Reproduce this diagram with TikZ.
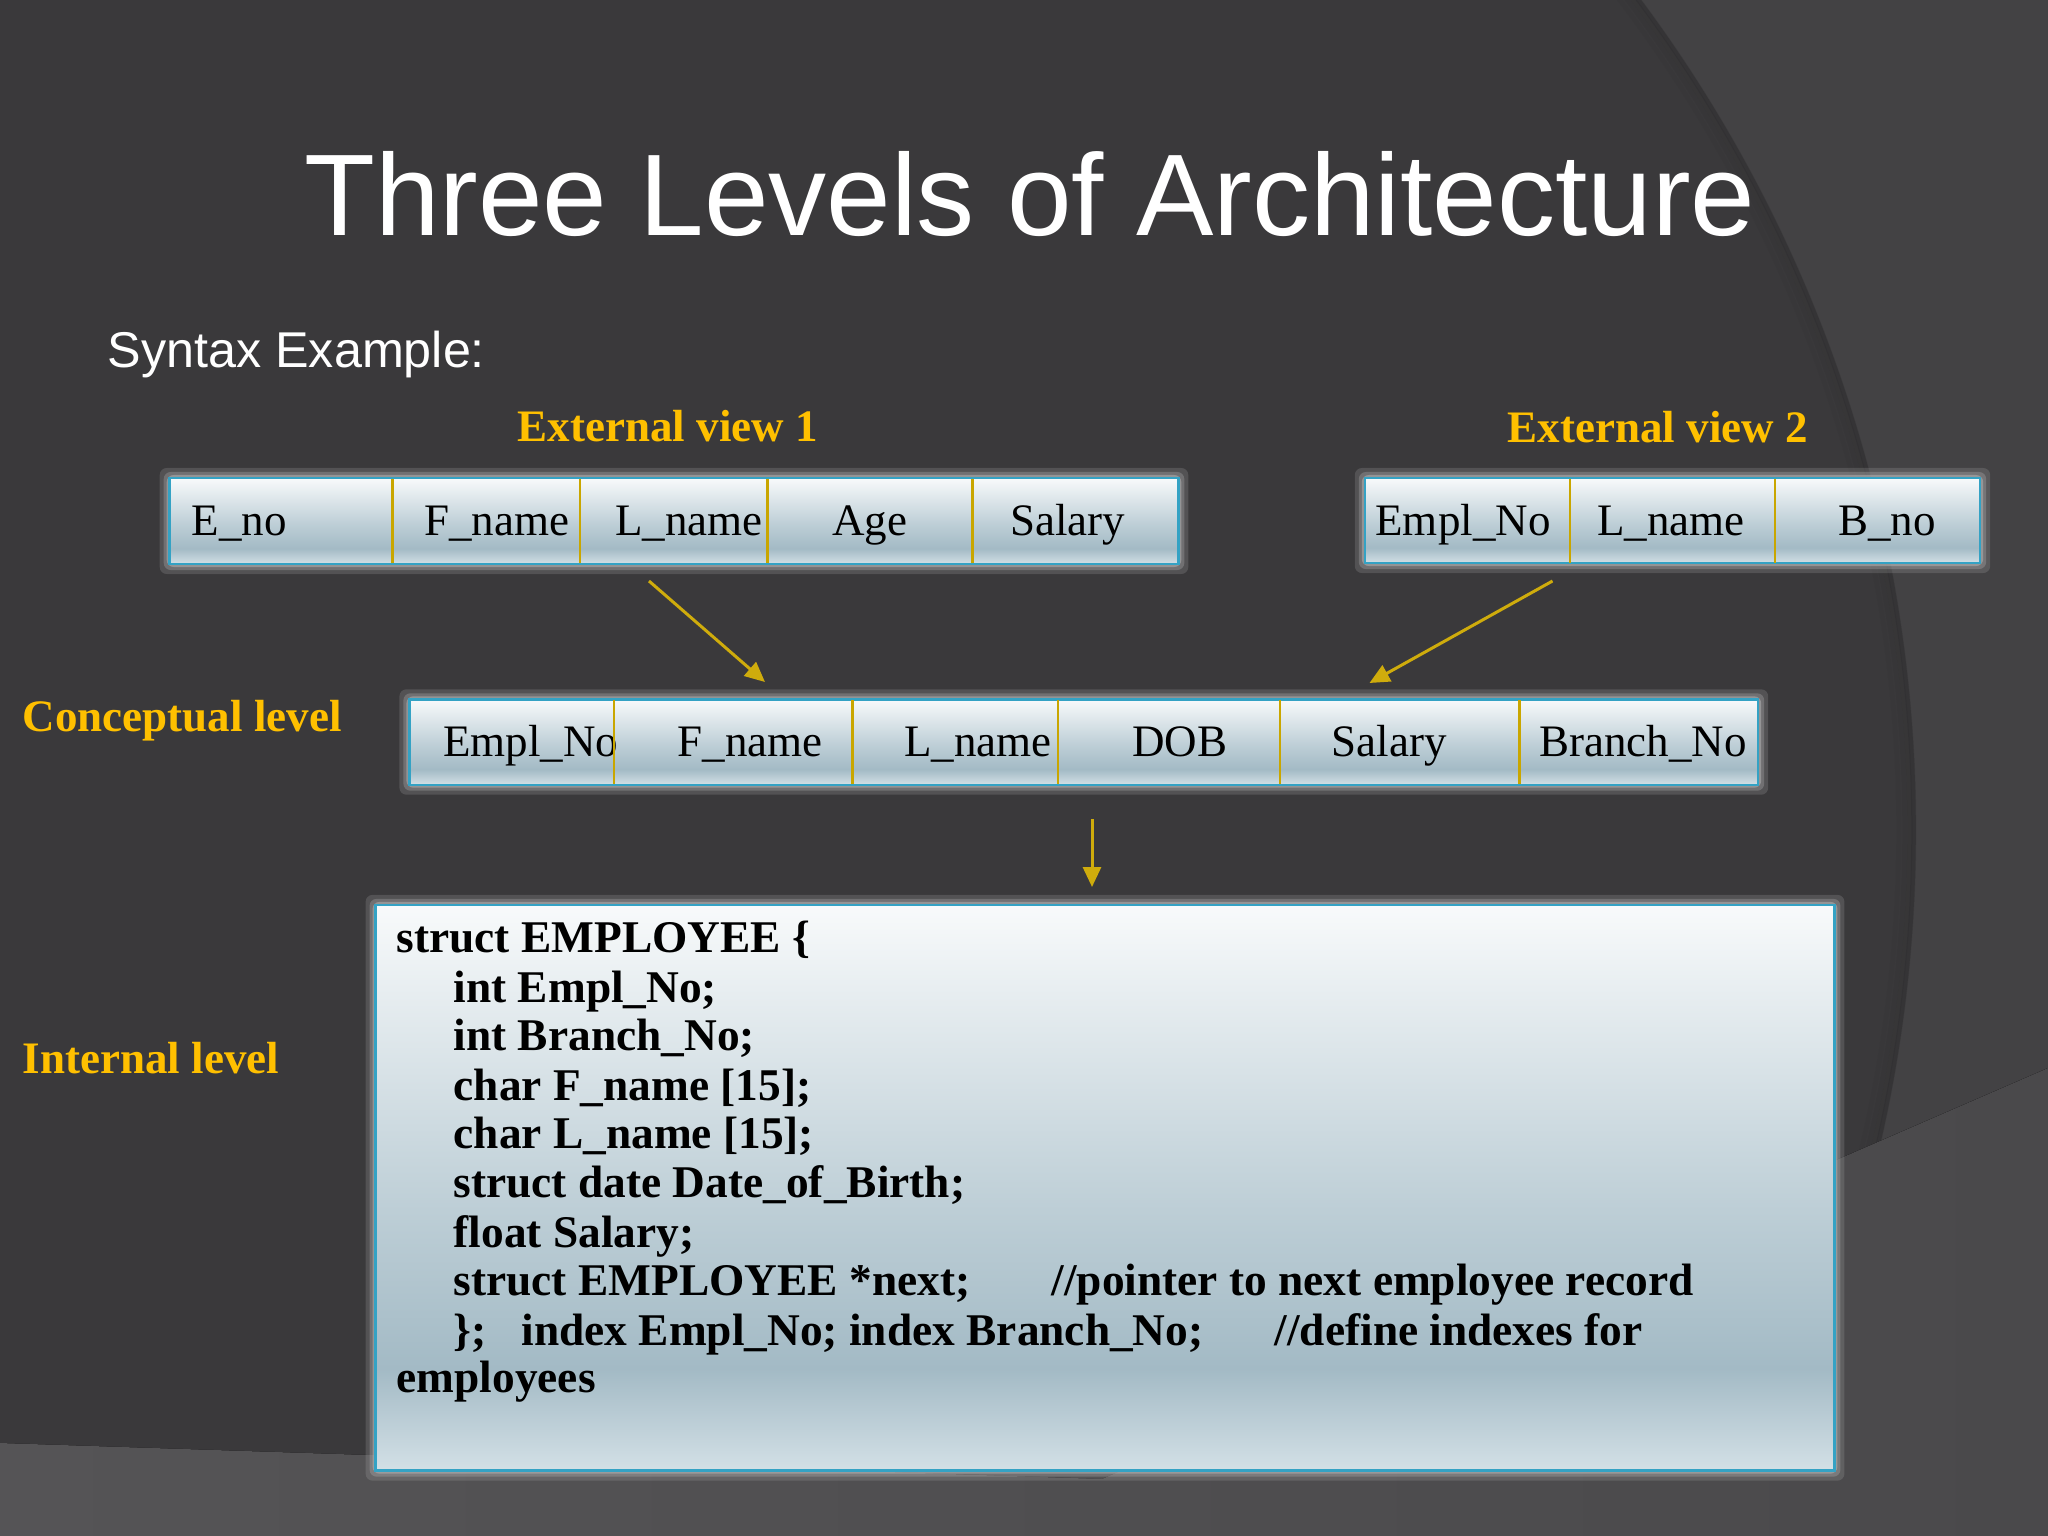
\documentclass[tikz,border=0pt]{standalone}
\usepackage{fontspec}
\setmainfont{Liberation Serif}
\newfontfamily\arialf{Liberation Sans}
\usetikzlibrary{arrows.meta}
\definecolor{bgA}{HTML}{3A393B}
\definecolor{bgB}{HTML}{434244}
\definecolor{lowL}{HTML}{555456}
\definecolor{lowR}{HTML}{4A494B}
\definecolor{gold}{HTML}{FFC000}
\definecolor{arrowc}{HTML}{CFAC0C}
\definecolor{divc}{HTML}{C9A600}
\definecolor{borderc}{HTML}{34A2C4}
\definecolor{cB}{HTML}{D3E0E6}
\definecolor{cD}{HTML}{A3BAC5}
\definecolor{cM}{HTML}{BDCED6}
\definecolor{cT}{HTML}{F8FAFB}
\definecolor{glowc}{HTML}{B8B8B8}
\pgfdeclareverticalshading{cellshade}{100bp}{color(0bp)=(cB); color(25bp)=(cB); color(34bp)=(cD); color(48bp)=(cM); color(75bp)=(cT); color(100bp)=(cT)}
\pgfdeclarelayer{bglayer}
\pgfdeclarelayer{glowlayer}
\pgfsetlayers{bglayer,glowlayer,main}
\newcommand\codef{\bfseries\fontsize{12.9pt}{14pt}\selectfont}
\newcommand\cellf{\fontsize{12.8pt}{14pt}\selectfont}
\newcommand\labelf{\bfseries\fontsize{12.8pt}{14pt}\selectfont}
\newcommand\glowof[1]{%
  \begin{pgfonlayer}{glowlayer}
  \foreach \g/\o in {10/0.20,6/0.30,3/0.50}{%
    \fill[glowc,opacity=\o,rounded corners=2pt] ([shift={(-\g,-\g)}]#1.north west) rectangle ([shift={(\g,\g)}]#1.south east);}
  \end{pgfonlayer}}
\begin{document}
\begin{tikzpicture}[x=0.01cm,y=-0.01cm,
  lbl/.style={anchor=base west, inner sep=0, text=gold, font=\labelf},
  celltxt/.style={anchor=base, inner sep=0, font=\cellf, text=black},
  codetxt/.style={anchor=base west, inner sep=0, font=\codef, text=black},
  rowbox/.style={rectangle, inner sep=0, outer sep=0, shading=cellshade, draw=borderc, line width=0.7pt},
  divider/.style={draw=divc, line width=0.6pt},
  conn/.style={draw=arrowc, line width=0.85pt, -{Triangle[length=0.2cm,width=0.18cm]}}]
\useasboundingbox (0,0) rectangle (2048,1536);
\begin{pgfonlayer}{bglayer}
\fill[bgB] (0,0) rectangle (2048,1536);
\fill[bgA] (525,830) circle[radius=13.9cm];
\foreach \r/\o in {13.88/0.07,13.84/0.05,13.79/0.035,13.73/0.02}{\draw[black,opacity=\o,line width=0.05cm] (525,830) circle[radius=\r cm];}
\fill[left color=lowL,right color=lowR] (0,1443) -- (1102,1479) -- (2048,1068) -- (2048,1536) -- (0,1536) -- cycle;
\end{pgfonlayer}

% titles
\node[anchor=base, inner sep=0, text=white, font=\arialf\fontsize{33pt}{36pt}\selectfont] (title) at (1030,235) {Three Levels of Architecture};
\node[anchor=base west, inner sep=0, text=white, font=\arialf\fontsize{14.3pt}{16pt}\selectfont] (syn) at (107,367) {Syntax Example:};
\node[lbl] (ev1lbl) at (517,441.7) {External view 1};
\node[lbl] (ev2lbl) at (1507,442) {External view 2};
\node[lbl] (conlbl) at (22,731.7) {Conceptual level};
\node[lbl] (intlbl) at (22,1073) {Internal level};

% boxes
\node[rowbox, minimum width=10.08cm, minimum height=0.86cm] (ev1) at (674,521) {};
\node[rowbox, minimum width=6.15cm, minimum height=0.85cm] (ev2) at (1672.5,520.5) {};
\node[rowbox, minimum width=13.48cm, minimum height=0.854cm] (con) at (1083.8,742) {};
\node[rowbox, minimum width=14.58cm, minimum height=5.655cm] (int) at (1105,1187.75) {};
\glowof{ev1}\glowof{ev2}\glowof{con}\glowof{int}

% external view 1 cells
\node[anchor=base west, inner sep=0, font=\cellf] (e1a) at (191,535) {E\_no};
\node[celltxt] (e1b) at (496.6,535) {F\_name};
\node[celltxt] (e1c) at (689,535) {L\_name};
\node[celltxt] (e1d) at (869.5,535) {Age};
\node[celltxt] (e1e) at (1067.6,535) {Salary};
\foreach \xx in {392.5,580,767.5,972.5}{\draw[divider] (\xx,478.5) -- (\xx,563);}

% external view 2 cells
\node[celltxt] (e2a) at (1463,535) {Empl\_No};
\node[celltxt] (e2b) at (1671,535) {L\_name};
\node[celltxt] (e2c) at (1887,535) {B\_no};
\foreach \xx in {1570,1775}{\draw[divider] (\xx,478.5) -- (\xx,562.5);}

% conceptual cells
\node[celltxt] (c1) at (530.6,756.7) {Empl\_No};
\node[celltxt] (c2) at (750,756.7) {F\_name};
\node[celltxt] (c3) at (978,756.7) {L\_name};
\node[celltxt] (c4) at (1180,756.7) {DOB};
\node[celltxt] (c5) at (1389,756.7) {Salary};
\node[celltxt] (c6) at (1643,756.7) {Branch\_No};
\foreach \xx in {614,852.5,1058,1280,1519.5}{\draw[divider] (\xx,699.8) -- (\xx,784.3);}

% internal code
\node[codetxt] (l1) at (396,952.7) {struct EMPLOYEE \{};
\node[codetxt] (l2) at (453,1002.5) {int Empl\_No;};
\node[codetxt] (l3) at (453,1050.3) {int Branch\_No;};
\node[codetxt] (l4) at (453,1100) {char F\_name [15];};
\node[codetxt] (l5) at (453,1148) {char L\_name [15];};
\node[codetxt] (l6) at (453,1197.6) {struct date Date\_of\_Birth;};
\node[codetxt] (l7) at (453,1247.4) {float Salary;};
\node[codetxt] (l8) at (453,1295) {struct EMPLOYEE *next;};
\node[codetxt] (l8c) at (1051,1295) {//pointer to next employee record};
\node[codetxt] (l9) at (453,1345) {\};};
\node[codetxt] (l9b) at (521,1345) {index Empl\_No; index Branch\_No;};
\node[codetxt] (l9c) at (1274,1345) {//define indexes for};
\node[codetxt] (l10) at (396,1392.8) {employees};

% connectors
\coordinate (a1s) at (649,581);
\coordinate (a1e) at (765,682);
\coordinate (a2s) at (1552.5,581);
\coordinate (a2e) at (1369.5,683);
\coordinate (a3s) at (1092,819);
\coordinate (a3e) at (1092,887);
\draw[conn] (a1s) -- (a1e);
\draw[conn] (a2s) -- (a2e);
\draw[conn] (a3s) -- (a3e);
\end{tikzpicture}
\end{document}
